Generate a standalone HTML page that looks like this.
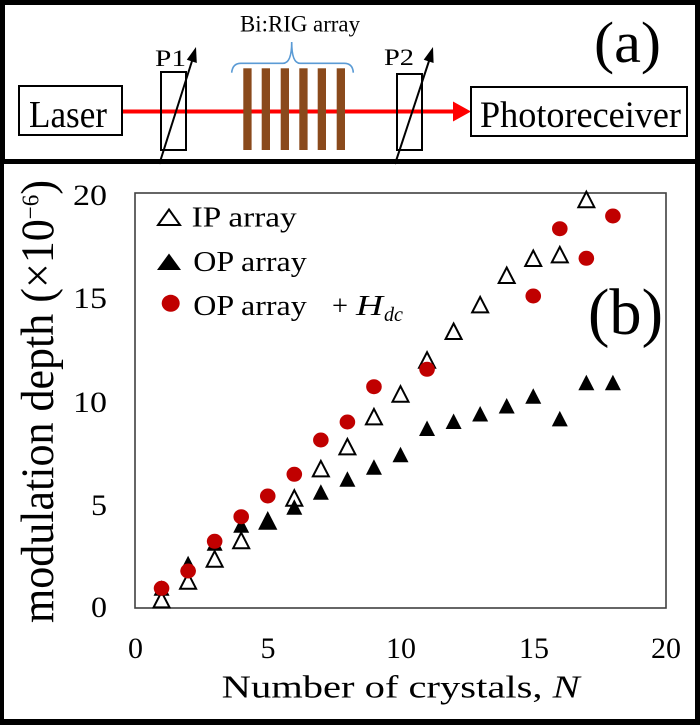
<!DOCTYPE html>
<html>
<head>
<meta charset="utf-8">
<style>
  html,body{margin:0;padding:0;background:#000;}
  svg{display:block;}
  text{font-family:"Liberation Serif","Times New Roman",serif;fill:#000;}
</style>
</head>
<body>
<svg width="700" height="725" viewBox="0 0 700 725" xmlns="http://www.w3.org/2000/svg">
  <!-- black background / borders -->
  <rect x="0" y="0" width="700" height="725" fill="#000"/>
  <rect x="5" y="5" width="690" height="154" fill="#fff"/>
  <rect x="4" y="164" width="691" height="555" fill="#fff"/>

  <!-- ===== Panel (a) ===== -->
  <!-- beam -->
  <line x1="122" y1="111.5" x2="456" y2="111.5" stroke="#ff0000" stroke-width="4"/>
  <polygon points="453,101.5 471,111.5 453,121.5" fill="#ff0000"/>

  <!-- Laser box -->
  <rect x="19" y="86" width="103" height="49" fill="none" stroke="#000" stroke-width="2"/>
  <text x="29" y="127" font-size="38" textLength="78" lengthAdjust="spacingAndGlyphs">Laser</text>

  <!-- Photoreceiver box -->
  <rect x="471" y="87" width="216" height="49" fill="none" stroke="#000" stroke-width="2"/>
  <text x="480" y="127" font-size="37" textLength="201" lengthAdjust="spacingAndGlyphs">Photoreceiver</text>

  <!-- P1 -->
  <rect x="161" y="72" width="25" height="78" fill="none" stroke="#000" stroke-width="2"/>
  <line x1="159.3" y1="164" x2="192" y2="61" stroke="#000" stroke-width="2"/>
  <polygon points="196,47 196.8,63 186.8,59.8" fill="#000"/>
  <text x="155" y="66" font-size="23" textLength="31" lengthAdjust="spacingAndGlyphs">P1</text>

  <!-- P2 -->
  <rect x="397" y="74" width="25" height="76" fill="none" stroke="#000" stroke-width="2"/>
  <line x1="395" y1="164" x2="429" y2="61" stroke="#000" stroke-width="2"/>
  <polygon points="433,47 433.6,63 423.7,59.7" fill="#000"/>
  <text x="384" y="65" font-size="23" textLength="30" lengthAdjust="spacingAndGlyphs">P2</text>

  <!-- Bi:RIG bars -->
  <g fill="#8a4a1c">
    <rect x="243.3" y="68.3" width="8.3" height="81.7"/>
    <rect x="261.7" y="68.3" width="8.3" height="81.7"/>
    <rect x="280.7" y="68.3" width="8.3" height="81.7"/>
    <rect x="299.3" y="68.3" width="8.3" height="81.7"/>
    <rect x="317.7" y="68.3" width="8.3" height="81.7"/>
    <rect x="336.7" y="68.3" width="8.3" height="81.7"/>
  </g>
  <!-- brace -->
  <path d="M231.7,72.7 Q232.5,63.3 241,63.3 L283,63.3 Q291.7,63.3 291.7,42 Q291.7,63.3 300,63.3 L344,63.3 Q352.8,63.3 353.3,72.7" fill="none" stroke="#5b9bd5" stroke-width="1.6"/>
  <text x="240" y="31.7" font-size="23" textLength="120" lengthAdjust="spacingAndGlyphs">Bi:RIG array</text>

  <text x="594" y="62" font-size="58" textLength="67" lengthAdjust="spacingAndGlyphs">(a)</text>

  <!-- ===== Panel (b) ===== -->
  <!-- frame -->
  <rect x="135" y="193" width="531" height="415" fill="none" stroke="#404040" stroke-width="1.6"/>

  <!-- y tick labels -->
  <g font-size="30" text-anchor="end">
    <text x="107" y="205" textLength="34" lengthAdjust="spacingAndGlyphs">20</text>
    <text x="107" y="308" textLength="34" lengthAdjust="spacingAndGlyphs">15</text>
    <text x="107" y="412" textLength="34" lengthAdjust="spacingAndGlyphs">10</text>
    <text x="107" y="515" textLength="16" lengthAdjust="spacingAndGlyphs">5</text>
    <text x="107" y="617" textLength="16" lengthAdjust="spacingAndGlyphs">0</text>
  </g>
  <!-- x tick labels -->
  <g font-size="30" text-anchor="middle">
    <text x="135.5" y="658">0</text>
    <text x="268" y="658">5</text>
    <text x="401" y="658">10</text>
    <text x="534" y="658">15</text>
    <text x="666" y="658">20</text>
  </g>

  <!-- axis titles -->
  <text x="221.7" y="697.3" font-size="32" textLength="358" lengthAdjust="spacingAndGlyphs">Number of crystals, <tspan font-style="italic">N</tspan></text>
  <text transform="translate(53,623) rotate(-90) scale(1,1.12)" x="0" y="0" font-size="42" textLength="443" lengthAdjust="spacingAndGlyphs">modulation depth (×10<tspan font-size="22" dy="-13">−6</tspan><tspan dy="13">)</tspan></text>

  <!-- legend -->
  <polygon points="169,209.5 180,225 158,225" fill="#fff" stroke="#000" stroke-width="2"/>
  <text x="191.7" y="226.7" font-size="29" textLength="105" lengthAdjust="spacingAndGlyphs">IP array</text>
  <polygon points="169,253.5 181,270 157,270" fill="#000"/>
  <text x="193.3" y="271" font-size="29" textLength="113.4" lengthAdjust="spacingAndGlyphs">OP array</text>
  <ellipse cx="170.7" cy="303.3" rx="9" ry="8.5" fill="#c00000"/>
  <text x="193.3" y="315" font-size="29" textLength="113.4" lengthAdjust="spacingAndGlyphs">OP array</text>
  <text x="332" y="315" font-size="29" textLength="16" lengthAdjust="spacingAndGlyphs">+</text>
  <text x="356" y="315" font-size="29" font-style="italic" textLength="27" lengthAdjust="spacingAndGlyphs">H</text>
  <text x="384" y="321" font-size="20" font-style="italic" textLength="19" lengthAdjust="spacingAndGlyphs">dc</text>

  <text x="588" y="334" font-size="66" textLength="75" lengthAdjust="spacingAndGlyphs">(b)</text>

  <!-- IP array (open triangles) -->
  <g fill="#fff" stroke="#000" stroke-width="2" stroke-linejoin="miter">
    <polygon points="161.55,591.9 169.55,607.4 153.55,607.4"/>
    <polygon points="188.1,573.2 196.1,588.7 180.1,588.7"/>
    <polygon points="214.65,551.2 222.65,566.7 206.65,566.7"/>
    <polygon points="241.2,532.7 249.2,548.2 233.2,548.2"/>
    <polygon points="267.75,513.2 275.75,528.7 259.75,528.7"/>
    <polygon points="294.3,490.2 302.3,505.7 286.3,505.7"/>
    <polygon points="320.85,460.9 328.85,476.4 312.85,476.4"/>
    <polygon points="347.4,438.9 355.4,454.4 339.4,454.4"/>
    <polygon points="373.95,408.9 381.95,424.4 365.95,424.4"/>
    <polygon points="400.5,386.2 408.5,401.7 392.5,401.7"/>
    <polygon points="427.05,352.2 435.05,367.7 419.05,367.7"/>
    <polygon points="453.6,323.5 461.6,339 445.6,339"/>
    <polygon points="480.15,296.9 488.15,312.4 472.15,312.4"/>
    <polygon points="506.7,267.5 514.7,283 498.7,283"/>
    <polygon points="533.25,250.5 541.25,266 525.25,266"/>
    <polygon points="559.8,246.9 567.8,262.4 551.8,262.4"/>
    <polygon points="586.35,191.7 594.35,207.2 578.35,207.2"/>
  </g>

  <!-- OP array (filled triangles) -->
  <g fill="#000">
    <polygon points="161.55,580.2 169.55,595.7 153.55,595.7"/>
    <polygon points="188.1,555.7 196.1,571.2 180.1,571.2"/>
    <polygon points="214.65,535.2 222.65,550.7 206.65,550.7"/>
    <polygon points="241.2,517.2 249.2,532.7 233.2,532.7"/>
    <polygon points="267.75,513 275.75,528.5 259.75,528.5"/>
    <polygon points="294.3,499.2 302.3,514.7 286.3,514.7"/>
    <polygon points="320.85,484.2 328.85,499.7 312.85,499.7"/>
    <polygon points="347.4,471.2 355.4,486.7 339.4,486.7"/>
    <polygon points="373.95,459.2 381.95,474.7 365.95,474.7"/>
    <polygon points="400.5,446.7 408.5,462.2 392.5,462.2"/>
    <polygon points="427.05,420.5 435.05,436 419.05,436"/>
    <polygon points="453.6,413.5 461.6,429 445.6,429"/>
    <polygon points="480.15,406 488.15,421.5 472.15,421.5"/>
    <polygon points="506.7,398 514.7,413.5 498.7,413.5"/>
    <polygon points="533.25,388.2 541.25,403.7 525.25,403.7"/>
    <polygon points="559.8,410.9 567.8,426.4 551.8,426.4"/>
    <polygon points="586.35,374.7 594.35,390.2 578.35,390.2"/>
    <polygon points="612.9,374.7 620.9,390.2 604.9,390.2"/>
  </g>

  <!-- OP array + Hdc (red circles) -->
  <g fill="#c00000">
    <ellipse cx="161.55" cy="588.3" rx="7.8" ry="7.5"/>
    <ellipse cx="188.1" cy="571" rx="7.8" ry="7.5"/>
    <ellipse cx="214.65" cy="541.3" rx="7.8" ry="7.5"/>
    <ellipse cx="241.2" cy="516.7" rx="7.8" ry="7.5"/>
    <ellipse cx="267.75" cy="496" rx="7.8" ry="7.5"/>
    <ellipse cx="294.3" cy="474.3" rx="7.8" ry="7.5"/>
    <ellipse cx="320.85" cy="440" rx="7.8" ry="7.5"/>
    <ellipse cx="347.4" cy="422" rx="7.8" ry="7.5"/>
    <ellipse cx="373.95" cy="386.7" rx="7.8" ry="7.5"/>
    <ellipse cx="427.05" cy="369.3" rx="7.8" ry="7.5"/>
    <ellipse cx="533.25" cy="296" rx="7.8" ry="7.5"/>
    <ellipse cx="559.8" cy="228.7" rx="7.8" ry="7.5"/>
    <ellipse cx="586.35" cy="258.3" rx="7.8" ry="7.5"/>
    <ellipse cx="612.9" cy="216" rx="7.8" ry="7.5"/>
  </g>
</svg>
</body>
</html>
